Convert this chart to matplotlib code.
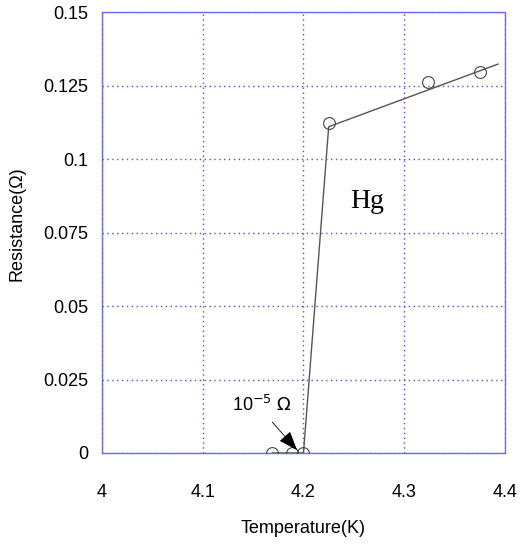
import numpy as np
import matplotlib.pyplot as plt

# mesures (cercles)
temp_pts = [4.169, 4.189, 4.200, 4.225, 4.324, 4.375]
res_pts = [0.0, 0.0, 0.0, 0.1122, 0.1262, 0.1296]

# courbe tracée
temp_line = [4.169, 4.200, 4.225, 4.393]
res_line = [0.0, 0.0, 0.1110, 0.1323]

xticks = [4, 4.1, 4.2, 4.3, 4.4]
xlabels = ['4', '4.1', '4.2', '4.3', '4.4']
yticks = [0, 0.025, 0.05, 0.075, 0.1, 0.125, 0.15]
ylabels = ['0', '0.025', '0.05', '0.075', '0.1', '0.125', '0.15']

plt.rcParams['font.family'] = ['Liberation Sans', 'DejaVu Sans']

fig = plt.figure(figsize=(5.22, 5.5), dpi=100)
ax = fig.add_axes([0.1954, 0.1764, 0.772, 0.8016])

blue = '#4a4aff'
ax.grid(True, color=blue, linestyle=(0, (1, 2.5)), linewidth=1.0)
for s in ax.spines.values():
    s.set_color('#6a6aff')
    s.set_linestyle((0, (2, 1)))
    s.set_linewidth(1.0)

ax.plot(temp_line, res_line, color='#555555', linewidth=1.0, zorder=3)
ax.plot(temp_pts, res_pts, 'o', markersize=8.5, markerfacecolor='none',
        markeredgecolor='#444444', markeredgewidth=0.8, zorder=4)

# annotation 10^-5 ohm + flèche
ax.text(4.158, 0.0165, r'10$^{-5}$ $\Omega$', fontsize=13, ha='center', va='center')
ax.annotate('', xy=(4.1936, 0.001), xytext=(4.169, 0.0105),
            arrowprops=dict(arrowstyle='-|>,head_length=1.2,head_width=0.45',
                            mutation_scale=10, color='black', linewidth=0.6,
                            shrinkA=0, shrinkB=0), zorder=5)

ax.text(4.263, 0.0857, 'Hg', family='Liberation Serif', fontsize=20,
        ha='center', va='center')

ax.set_xlim(4, 4.4)
ax.set_ylim(0, 0.15)
ax.set_xticks(xticks)
ax.set_xticklabels(xlabels)
ax.set_yticks(yticks)
ax.set_yticklabels(ylabels)
ax.tick_params(axis='x', length=0, pad=22, labelsize=13)
ax.tick_params(axis='y', length=0, pad=10, labelsize=13)

ax.set_xlabel('Temperature(K)', fontsize=13, labelpad=14)
ax.set_ylabel('Resistance(Ω)', fontsize=13, labelpad=12)
ax.yaxis.set_label_coords(-0.19, 0.52)

fig.savefig('out.png', dpi=100)
